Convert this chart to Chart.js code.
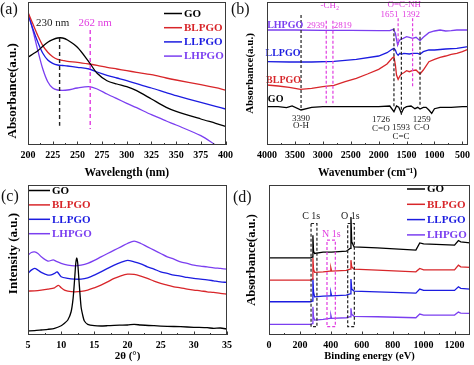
<!DOCTYPE html>
<html><head><meta charset="utf-8">
<script src="https://cdn.jsdelivr.net/npm/chart.js@4"></script>
<style>
html,body{margin:0;padding:0;background:#fff;}
#wrap{position:relative;width:474px;height:365px;overflow:hidden;background:#fff;}
.pc{position:absolute;}
.lab{position:absolute;font-family:"Liberation Serif","Times New Roman",serif;font-size:16px;line-height:18px;color:#111;}
</style></head><body>
<div id="wrap">
<div class="pc" style="left:0;top:0;width:237px;height:182px"><canvas id="ca"></canvas></div>
<div class="pc" style="left:237px;top:0;width:237px;height:182px"><canvas id="cb"></canvas></div>
<div class="pc" style="left:0;top:182px;width:237px;height:183px"><canvas id="cc"></canvas></div>
<div class="pc" style="left:237px;top:182px;width:237px;height:183px"><canvas id="cd"></canvas></div>
<div class="lab" style="left:0;top:0">(a)</div>
<div class="lab" style="left:231px;top:0">(b)</div>
<div class="lab" style="left:1px;top:187px">(c)</div>
<div class="lab" style="left:233px;top:188px">(d)</div>
</div>
<script>
// ---------------- DATA ----------------
const seriesNames = ['GO', 'BLPGO', 'LLPGO', 'LHPGO'];

// (a) UV-vis
const uvWavelength = [200,205,210,215,220,225,230,235,240,250,262,270,280,290,300,310,325,340,350,375,390,400];
const uvGO    = [87.7,91,94.3,98.7,102.7,105.3,107,107,105,97.7,82.7,71.7,64.3,61,58.3,54.3,46,37.7,33.7,26,21.7,18.7];
const uvBLPGO = [132.7,121,109.3,99.3,92.7,88.3,85.7,84.7,83.7,82.7,81,79.7,77.7,76,74.3,72.7,70.3,67,65,60.3,57.3,55];
const uvLLPGO = [131,116,102.7,91.7,85,81.7,80,79.5,79,77.7,76,73,69.7,67,64.3,61.3,57,52.3,49.3,42.7,38.7,36];
const uvLHPGO = [132.7,114.3,94.3,76,63.3,57,55,54.7,55,57,58.3,56,51,46.3,41.7,37.3,30.3,24,20,9.3,0,-6];
const uvTicks = [200,225,250,275,300,325,350,375,400];

// (b) FTIR
const ftirGO_x = [4000,3800,3650,3550,3390,3200,3000,2500,2000,1800,1726,1680,1640,1593,1550,1500,1420,1350,1300,1259,1200,1150,1100,1050,1000,900,700,500,400];
const ftirGO_y = [38.3,38.3,37.3,39,35,37.7,38.3,38.3,38.3,39,33.3,39,37.7,31.7,36.7,38.3,39,36.3,37.7,36,37.7,37.7,35,31.7,36.3,37.7,37.7,38.3,38.3];
const ftirBLPGO_x = [4000,3800,3600,3400,3200,3000,2800,2600,2400,2200,2000,1850,1760,1726,1700,1680,1651,1620,1593,1550,1500,1450,1400,1330,1259,1200,1100,1000,900,800,700,600,500,400];
const ftirBLPGO_y = [60,59,57.7,55.7,56.7,58.3,59.7,63.3,66.7,71,75.7,81,86.7,88.3,80,70,65.7,69,71,72.3,74.3,73.3,74.3,75,71,75,83.3,85.7,87.7,89,90.7,91.7,93.3,95.7];
const ftirLLPGO_x = [4000,3600,3200,2800,2400,2000,1850,1760,1726,1700,1680,1651,1620,1593,1550,1450,1392,1300,1259,1200,1100,1000,800,600,400];
const ftirLLPGO_y = [83.3,83,83,83.7,85.7,89,92.3,95.7,96.7,95,91.7,89.7,91.7,90.7,91.7,91,91.7,91.7,90.7,93.3,95,95,96,96.7,98.3];
const ftirLHPGO_x = [4000,3500,3000,2500,2000,1800,1740,1700,1680,1660,1640,1610,1560,1500,1450,1392,1330,1259,1200,1100,1000,900,800,700,600,500,400];
const ftirLHPGO_y = [115,115,114.7,114.7,114.3,114.3,115.7,111.7,105.7,100,103.3,105.7,106.7,108.3,107.7,106.7,107.7,104.3,107.7,112.3,114,115,114,114.3,115,115,115];
const ftirTicks = [4000,3500,3000,2500,2000,1500,1000,500];

// (c) XRD
const xrdGO_x = [5,6,7,8,9,10,10.5,11,11.5,11.8,12,12.2,12.35,12.5,12.7,13,13.3,13.5,14,15,16,17,18,20,21,22,24,26,28,30,32,33,34,35];
const xrdGO_y = [4,4.3,5,5.7,6.7,9.3,11.7,15,23.3,36.7,53.3,71.7,77.3,71.7,53.3,28.3,18.3,14,10.7,9.3,9,9.3,9.7,10,10.7,10,9.3,8.7,8.3,7.7,7.3,6.7,7,6];
const xrdBLPGO_x = [5,6,7,8,9,9.6,10,10.5,11,12,13,14,15,16,17,18,19,20,21,22,23,24,25,26,27,28,29,30,31,32,33,34,35];
const xrdBLPGO_y = [44,44.3,45,46,47.3,49.7,47.3,45,44,43.3,43.7,45,47.3,50,53.3,56.7,59.3,61,60.7,59,56.7,54,51.7,50,48.3,47.3,46,45,44.3,43.3,42.7,41.7,41];
const xrdLLPGO_x = [5,5.5,6,6.5,7,8,8.5,9,9.4,10,11,12,13,14,15,16,17,18,19,20,21,22,23,24,25,26,27,28,29,30,31,32,33,34,35];
const xrdLLPGO_y = [61.7,65,66.7,65,62.7,60,60.3,61.7,63.3,58.3,56.7,56,56,57.3,60,63.3,66.7,70,72.7,74.7,73.3,71.3,68.3,66,63.3,61.7,60,59,57.7,56.7,56,55.3,54.3,53.3,52.7];
const xrdLHPGO_x = [5,5.5,6,6.5,7,8,8.8,9.2,10,11,12,13,14,15,16,17,18,19,20,21,22,23,24,25,26,27,28,29,30,31,32,33,34,35];
const xrdLHPGO_y = [80,82.7,83.3,81.7,78.3,74,75.3,74,71.7,70,69.3,70,71.7,74.7,78.3,81.7,85,88.3,91.7,94,91.7,88.3,85,81.7,78.3,76,73.3,71.7,70,69,68.3,67.3,66.7,66];
const xrdTicks = [5,10,15,20,25,30,35];

// (d) XPS
const xpsEnergy = [0,270,280,284,288,295,350,395,400,405,500,525,530,535,550,700,950,975,1000,1200,1225,1240,1300];
const xpsGO    = [77.3,77.3,78,100,84,81.7,83,83,83,83,84,86.7,118.3,93.3,88.3,87.3,85,92.3,91.3,90,94.7,93.3,92.3];
const xpsBLPGO = [55,55,56,77.3,66,62.7,63.3,64,67.3,64,64.7,66,75,68.3,66,65,63.3,66.7,65.3,65.3,70,68.3,67.7];
const xpsLLPGO = [33.3,33.3,34,56.7,43.3,38.3,39,39.3,42.7,39.3,40,41.3,56,46,44,43.3,42,46,44.7,44.7,48.3,46.7,46];
const xpsLHPGO = [10.7,10.7,11.3,28.3,18.3,15,15.7,16.7,20,16.7,17.3,18.3,26.7,20.7,18.7,18.3,17.3,21,20,20,23,22,21.7];
const xpsTicks = [0,200,400,600,800,1000,1200];

// ---------------- STYLE ----------------
const FONT = '"Liberation Serif","Times New Roman",serif';
const COL = {GO:'#000000', BLPGO:'#d8262a', LLPGO:'#1c1ce0', LHPGO:'#7b3ff0'};
const MAG = '#e03ce0';
const DARK = '#222222';

function ds(label, xs, ys, tension) {
  return {label, data: xs.map((x,i)=>({x, y: ys[i]})), borderColor: COL[label], borderWidth: 1.3,
          pointRadius: 0, tension: tension || 0, fill: false};
}

function decoPlugin(spec) {
  return {
    id: 'deco',
    afterDatasetsDraw(chart) {
      const {ctx, chartArea: a, scales: {x, y}} = chart;
      ctx.save();
      (spec.vlines || []).forEach(l => {
        ctx.beginPath(); ctx.setLineDash(l.dash || [4,3]); ctx.strokeStyle = l.color; ctx.lineWidth = l.w || 1.4;
        const px = x.getPixelForValue(l.x);
        ctx.moveTo(px, y.getPixelForValue(l.y1)); ctx.lineTo(px, y.getPixelForValue(l.y2)); ctx.stroke();
      });
      (spec.boxes || []).forEach(b => {
        ctx.beginPath(); ctx.setLineDash([3,2]); ctx.strokeStyle = b.color; ctx.lineWidth = 1.2;
        const x1 = x.getPixelForValue(b.x1), x2 = x.getPixelForValue(b.x2);
        const y1 = y.getPixelForValue(b.y1), y2 = y.getPixelForValue(b.y2);
        ctx.strokeRect(x1, y2, x2 - x1, y1 - y2);
      });
      ctx.setLineDash([]);
      ctx.textBaseline = 'middle';
      (spec.texts || []).forEach(t => {
        ctx.font = (t.bold ? 'bold ' : '') + t.size + 'px ' + FONT;
        ctx.fillStyle = t.color; ctx.textAlign = t.align || 'center';
        ctx.fillText(t.text, x.getPixelForValue(t.x), y.getPixelForValue(t.y));
      });
      if (spec.legend) {
        const L = spec.legend;
        seriesNames.forEach((n, i) => {
          const yy = a.top + L.dy + i * L.gap;
          const x0 = a.left + L.dx;
          ctx.beginPath(); ctx.strokeStyle = COL[n]; ctx.lineWidth = 1.5;
          ctx.moveTo(x0, yy); ctx.lineTo(x0 + L.len, yy); ctx.stroke();
          ctx.font = 'bold ' + L.size + 'px ' + FONT; ctx.fillStyle = COL[n]; ctx.textAlign = 'left';
          ctx.fillText(n, x0 + L.len + 2, yy + 0.5);
        });
      }
      // frame
      ctx.strokeStyle = '#3a3a3a'; ctx.lineWidth = 1;
      ctx.strokeRect(Math.round(a.left) + 0.5, Math.round(a.top) + 0.5,
                     Math.round(a.right - a.left) - 1, Math.round(a.bottom - a.top) - 1);
      // inward ticks on x axis
      const tv = x.ticks.map(t => t.value);
      ctx.beginPath();
      tv.forEach((v, i) => {
        const px = Math.round(x.getPixelForValue(v)) + 0.5;
        ctx.moveTo(px, a.bottom); ctx.lineTo(px, a.bottom - 3.5);
        if (i < tv.length - 1) {
          const pm = Math.round(x.getPixelForValue((v + tv[i+1]) / 2)) + 0.5;
          ctx.moveTo(pm, a.bottom); ctx.lineTo(pm, a.bottom - 2);
        }
      });
      ctx.stroke();
      ctx.restore();
    }
  };
}

function makeChart(id, o) {
  return new Chart(document.getElementById(id), {
    type: 'line',
    data: {datasets: o.datasets},
    options: {
      responsive: true, maintainAspectRatio: false, animation: false, events: [],
      layout: {padding: o.pad, autoPadding: false},
      plugins: {legend: {display: false}, tooltip: {enabled: false}},
      scales: {
        x: {type: 'linear', min: o.xmin, max: o.xmax, reverse: !!o.reverse,
          afterBuildTicks: s => { s.ticks = o.xticks.map(v => ({value: v})); },
          afterFit: s => { s.height = o.xh; },
          grid: {display: false, drawTicks: false, tickLength: 0}, border: {display: false},
          ticks: {color: '#000', font: {family: FONT, size: 10, weight: 'bold'}, padding: 4, maxRotation: 0, autoSkip: false,
                  callback: v => String(v)},
          title: {display: true, text: o.xtitle, color: '#000', font: {family: FONT, size: o.xts, weight: 'bold'}, padding: {top: 0, bottom: 2}}},
        y: {type: 'linear', min: o.ymin, max: o.ymax,
          afterFit: s => { s.width = o.yw; },
          grid: {display: false, drawTicks: false, tickLength: 0}, border: {display: false}, ticks: {display: false},
          title: {display: true, text: o.ytitle, align: o.yalign || 'center', color: '#000',
                  font: {family: FONT, size: o.yts, weight: 'bold'}, padding: {top: o.ytp, bottom: 0}}}
      }
    },
    plugins: [decoPlugin(o.deco)]
  });
}

// (a)
makeChart('ca', {
  datasets: [ds('GO', uvWavelength, uvGO, 0.3), ds('BLPGO', uvWavelength, uvBLPGO, 0.3),
             ds('LLPGO', uvWavelength, uvLLPGO, 0.3), ds('LHPGO', uvWavelength, uvLHPGO, 0.3)],
  pad: {left: 0, top: 2, right: 9, bottom: 0}, xh: 37, yw: 28,
  xmin: 200, xmax: 400, xticks: uvTicks, ymin: 0, ymax: 143,
  xtitle: 'Wavelength (nm)', xts: 11.5, ytitle: '  Absorbance(a.u.)', yts: 13, ytp: 4.5, yalign: 'start',
  deco: {
    vlines: [{x: 232, y1: 107, y2: 19.3, color: DARK}, {x: 263, y1: 115, y2: 16, color: MAG}],
    texts: [{x: 225, y: 122, text: '230 nm', color: DARK, size: 11},
            {x: 268, y: 122, text: '262 nm', color: MAG, size: 11}],
    legend: {dx: 136, dy: 11.5, gap: 14.2, len: 18, size: 11}
  }
});

// (b)
makeChart('cb', {
  datasets: [ds('GO', ftirGO_x, ftirGO_y), ds('BLPGO', ftirBLPGO_x, ftirBLPGO_y),
             ds('LLPGO', ftirLLPGO_x, ftirLLPGO_y), ds('LHPGO', ftirLHPGO_x, ftirLHPGO_y)],
  pad: {left: 0, top: 2, right: 4, bottom: 0}, xh: 37, yw: 30,
  xmin: 400, xmax: 4000, reverse: true, xticks: ftirTicks, ymin: 0, ymax: 143,
  xtitle: 'Wavenumber (cm⁻¹)', xts: 11.5, ytitle: 'Absorbance(a.u.)', yts: 11, ytp: 6.5,
  deco: {
    vlines: [
      {x: 3390, y1: 130, y2: 35, color: DARK, dash: [3,2], w: 1.2},
      {x: 2939, y1: 124.3, y2: 41.7, color: MAG, dash: [3,2], w: 1.2},
      {x: 2819, y1: 124.3, y2: 41.7, color: MAG, dash: [3,2], w: 1.2},
      {x: 1726, y1: 116.7, y2: 38.3, color: DARK, dash: [3,2], w: 1.2},
      {x: 1651, y1: 126.7, y2: 100, color: MAG, dash: [3,2], w: 1.2},
      {x: 1593, y1: 113.3, y2: 28.3, color: DARK, dash: [3,2], w: 1.2},
      {x: 1392, y1: 126.7, y2: 56.7, color: MAG, dash: [3,2], w: 1.2},
      {x: 1259, y1: 113.3, y2: 38.3, color: DARK, dash: [3,2], w: 1.2}
    ],
    texts: [
      {x: 3390, y: 26.7, text: '3390', color: DARK, size: 9},
      {x: 3390, y: 19, text: 'O-H', color: DARK, size: 9},
      {x: 1960, y: 25, text: '1726', color: DARK, size: 9},
      {x: 1960, y: 16.7, text: 'C=O', color: DARK, size: 9},
      {x: 1600, y: 17, text: '1593', color: DARK, size: 9},
      {x: 1600, y: 8.7, text: 'C=C', color: DARK, size: 9},
      {x: 1230, y: 25, text: '1259', color: DARK, size: 9},
      {x: 1230, y: 17.3, text: 'C-O', color: DARK, size: 9},
      {x: 2875, y: 139.5, text: '-CH₂', color: MAG, size: 9},
      {x: 3127, y: 119, text: '2939', color: MAG, size: 9},
      {x: 2645, y: 119, text: '2819', color: MAG, size: 9},
      {x: 1540, y: 140.5, text: 'O=C-NH', color: MAG, size: 9},
      {x: 1804, y: 130, text: '1651', color: MAG, size: 9},
      {x: 1422, y: 130, text: '1392', color: MAG, size: 9},
      {x: 3674, y: 120, text: 'LHPGO', color: COL.LHPGO, size: 10, bold: true},
      {x: 3714, y: 91.7, text: 'LLPGO', color: COL.LLPGO, size: 10, bold: true},
      {x: 3703, y: 65, text: 'BLPGO', color: COL.BLPGO, size: 10, bold: true},
      {x: 3845, y: 45.7, text: 'GO', color: COL.GO, size: 10, bold: true}
    ]
  }
});

// (c)
makeChart('cc', {
  datasets: [ds('GO', xrdGO_x, xrdGO_y, 0.2), ds('BLPGO', xrdBLPGO_x, xrdBLPGO_y, 0.3),
             ds('LLPGO', xrdLLPGO_x, xrdLLPGO_y, 0.3), ds('LHPGO', xrdLHPGO_x, xrdLHPGO_y, 0.3)],
  pad: {left: 0, top: 3, right: 10, bottom: 0}, xh: 30, yw: 28,
  xmin: 5, xmax: 35, xticks: xrdTicks, ymin: 0, ymax: 150.3,
  xtitle: '2θ (°)', xts: 11, ytitle: '    Intensity (a.u.)', yts: 13, ytp: 5.5,
  deco: { legend: {dx: 1, dy: 5.5, gap: 14.4, len: 21, size: 11} }
});

// (d)
makeChart('cd', {
  datasets: [ds('GO', xpsEnergy, xpsGO), ds('BLPGO', xpsEnergy, xpsBLPGO),
             ds('LLPGO', xpsEnergy, xpsLLPGO), ds('LHPGO', xpsEnergy, xpsLHPGO)],
  pad: {left: 0, top: 3, right: 4, bottom: 0}, xh: 30, yw: 32,
  xmin: 0, xmax: 1300, xticks: xpsTicks, ymin: 0, ymax: 150.3,
  xtitle: 'Binding energy (eV)', xts: 10.5, ytitle: 'Absorbance(a.u.)', yts: 12.5, ytp: 7.5,
  deco: {
    boxes: [{x1: 272, x2: 310, y1: 8.3, y2: 111.7, color: DARK},
            {x1: 509, x2: 552, y1: 8.3, y2: 111.7, color: DARK},
            {x1: 375, x2: 429, y1: 8.3, y2: 95, color: MAG}],
    texts: [{x: 273, y: 119, text: 'C 1s', color: DARK, size: 10},
            {x: 526, y: 119, text: 'O 1s', color: DARK, size: 10},
            {x: 403, y: 100.7, text: 'N 1s', color: MAG, size: 10}],
    legend: {dx: 138, dy: 4, gap: 15.3, len: 18, size: 11}
  }
});
</script>
</body></html>
